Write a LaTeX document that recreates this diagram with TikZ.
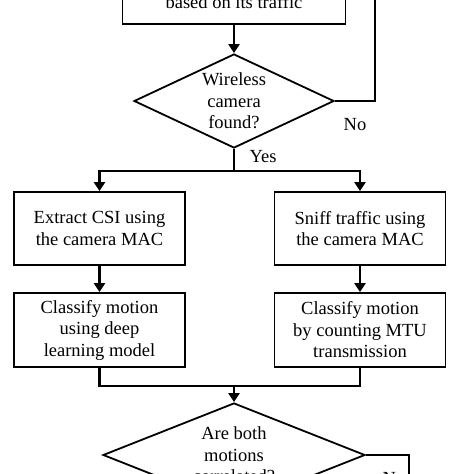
\documentclass[tikz,border=0pt]{standalone}
\usepackage{fontspec}
\setmainfont{Liberation Serif}
\usetikzlibrary{shapes.geometric,arrows.meta}
\tikzset{
  flow-text/.style={
    font=\fontsize{18.5}{21.5}\selectfont,
    align=center
  },
  step-box/.style={
    flow-text,
    draw=black,
    line width=1.8pt,
    minimum width=171pt,
    minimum height=73pt,
    inner sep=2pt
  },
  decision/.style={
    flow-text,
    diamond,
    draw=black,
    line width=1.8pt,
    aspect=2,
    inner sep=0pt
  },
  flow-line/.style={line width=2.8pt},
  flow-arrow/.style={flow-line, -{Triangle[length=9pt,width=11pt]}},
  answer/.style={flow-text, inner sep=0pt}
}

\begin{document}
\begin{tikzpicture}[x=1pt,y=-1pt]
  \useasboundingbox (0,0) rectangle (474,474);
  \clip (0,0) rectangle (474,474);
  % Top step, cut by the frame
  \node[step-box, minimum width=223pt, minimum height=44pt] (traffic) at (234,2) {based on its traffic};
  % First decision
  \node[decision, minimum width=200pt, minimum height=94pt] (found) at (234,101) {Wireless\\camera\\found?};
  \coordinate (loop-top) at (375,-20);
  \coordinate (split) at (234,171);
  % Two branches
  \node[step-box] (csi) at (99.5,228.5) {Extract CSI using\\the camera MAC};
  \node[step-box] (sniff) at (360,228.5) {Sniff traffic using\\the camera MAC};
  \node[step-box, minimum height=74pt] (deep) at (99.5,330) {Classify motion\\using deep\\learning model};
  \node[step-box, minimum height=74pt] (mtu) at (360,330) {Classify motion\\by counting MTU\\transmission};
  \coordinate (merge) at (234,386);
  % Second decision
  \node[decision, minimum width=262pt, minimum height=104pt] (correlated) at (234,455) {Are both\\motions\\correlated?};
  \coordinate (loop-bottom) at (409,500);

  % Connectors
  \draw[flow-arrow] (traffic) -- (found);
  \draw[flow-line] (found.east) -| (loop-top);
  \draw[flow-line] (found.south) -- (split);
  \draw[flow-arrow] (split) -| (csi);
  \draw[flow-arrow] (split) -| (sniff);
  \draw[flow-arrow] (csi) -- (deep);
  \draw[flow-arrow] (sniff) -- (mtu);
  \draw[flow-line] (deep) |- (merge);
  \draw[flow-line] (mtu) |- (merge);
  \draw[flow-arrow] (merge) -- (correlated);
  \draw[flow-line] (correlated.east) -| (loop-bottom);

  % Answers
  \node[answer] (no-found) at (355,125) {No};
  \node[answer] (yes-found) at (263,157) {Yes};
  \node[answer] (no-correlated) at (394,479) {No};
\end{tikzpicture}
\end{document}
